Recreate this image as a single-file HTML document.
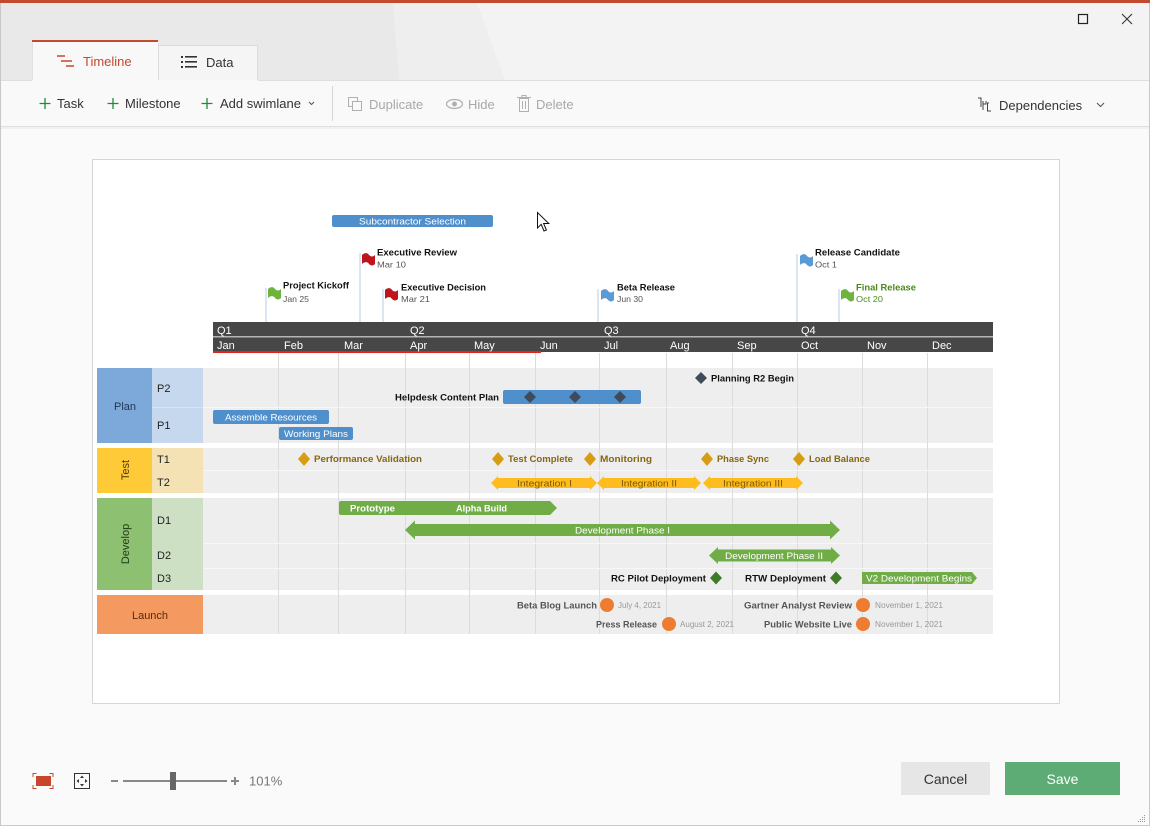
<!DOCTYPE html>
<html><head><meta charset="utf-8">
<style>
html,body{margin:0;padding:0;width:1150px;height:826px;overflow:hidden;background:#fafafa;}
svg{display:block;font-family:"Liberation Sans",Arial,sans-serif;}
</style></head>
<body>
<svg width="1150" height="826" viewBox="0 0 1150 826" xmlns="http://www.w3.org/2000/svg">
<!-- title bar -->
<rect x="0" y="0" width="1150" height="80" fill="#e9e9e9"/>
<polygon points="393,3 1150,3 1150,80 399,80" fill="#eeeeee"/>
<polygon points="477,3 1150,3 1150,80 505,80" fill="#f3f3f3"/>
<rect x="0" y="0" width="1150" height="3" fill="#c24a2e"/>
<!-- window controls -->
<rect x="1078.5" y="14.5" width="9" height="9" fill="none" stroke="#222" stroke-width="1.2"/>
<path d="M1122,14 L1132,24 M1132,14 L1122,24" stroke="#333" stroke-width="1.1"/>
<!-- tabs -->
<rect x="158.5" y="45.5" width="99" height="35" fill="#f5f5f5" stroke="#dcdcdc"/>
<rect x="32" y="40" width="126" height="41" fill="#f8f8f8"/>
<rect x="32" y="40" width="126" height="2" fill="#c24a2e"/>
<line x1="32.5" y1="42" x2="32.5" y2="80" stroke="#e2e2e2"/>
<path d="M57,56 H65 M61,61 H72 M66,66 H74" stroke="#c7472c" stroke-width="1.6"/>
<text x="83" y="66" font-size="13" fill="#c7472c">Timeline</text>
<g fill="#333"><rect x="181" y="56" width="2" height="2"/><rect x="181" y="61" width="2" height="2"/><rect x="181" y="66" width="2" height="2"/>
<rect x="185" y="56" width="12" height="1.6"/><rect x="185" y="61" width="12" height="1.6"/><rect x="185" y="66" width="12" height="1.6"/></g>
<text x="206" y="67" font-size="13" fill="#333">Data</text>
<!-- toolbar -->
<rect x="0" y="80" width="1150" height="47" fill="#f9f9f9"/>
<line x1="0" y1="80.5" x2="32" y2="80.5" stroke="#dedede"/>
<line x1="258" y1="80.5" x2="1150" y2="80.5" stroke="#dedede"/>
<rect x="0" y="126" width="1150" height="1" fill="#e0e0e0"/>
<rect x="0" y="127" width="1150" height="2" fill="#f1f1f1"/>
<path d="M45,98 V109 M39.5,103.5 H50.5" stroke="#1e8a3a" stroke-width="1.3"/>
<text x="57" y="108" font-size="13" fill="#333">Task</text>
<path d="M113,98 V109 M107.5,103.5 H118.5" stroke="#1e8a3a" stroke-width="1.3"/>
<text x="125" y="108" font-size="13" fill="#333">Milestone</text>
<path d="M207,98 V109 M201.5,103.5 H212.5" stroke="#1e8a3a" stroke-width="1.3"/>
<text x="220" y="108" font-size="13" fill="#333">Add swimlane</text>
<path d="M309,102 L311.5,104.5 L314,102" stroke="#555" stroke-width="1" fill="none"/>
<line x1="332.5" y1="86" x2="332.5" y2="121" stroke="#d6d6d6"/>
<rect x="348.5" y="97.5" width="9" height="9" fill="none" stroke="#b0b0b0"/>
<rect x="352.5" y="101.5" width="9" height="9" fill="#f9f9f9" stroke="#b0b0b0"/>
<text x="369" y="109" font-size="13" fill="#a8a8a8">Duplicate</text>
<ellipse cx="454.5" cy="104" rx="8" ry="4.5" fill="none" stroke="#b0b0b0" stroke-width="1.2"/>
<circle cx="454.5" cy="104" r="2.5" fill="#b0b0b0"/>
<text x="468" y="109" font-size="13" fill="#a8a8a8">Hide</text>
<rect x="519.5" y="98.5" width="9" height="13" fill="none" stroke="#b0b0b0"/>
<path d="M517,97.5 H531 M522,97 V95.5 H526 V97 M522.5,101 V109 M525.5,101 V109" stroke="#b0b0b0" fill="none"/>
<text x="536" y="109" font-size="13" fill="#a8a8a8">Delete</text>
<path d="M978,98 H981 V107 M983,101 V110 M983,104 H986 V101 M989,103 H987.5 V111 H991" stroke="#444" stroke-width="1" fill="none"/>
<text x="999" y="110" font-size="13" fill="#333">Dependencies</text>
<path d="M1097,103 L1100.5,106.5 L1104,103" stroke="#555" stroke-width="1.1" fill="none"/>
<!-- main -->
<rect x="0" y="129" width="1150" height="697" fill="#fafafa"/>
<rect x="92.5" y="159.5" width="967" height="544" fill="#ffffff" stroke="#d6d6d6"/>

<!-- above timescale -->
<rect x="332" y="215" width="161" height="12" rx="2" fill="#4f8fcc"/>
<text x="359" y="224.5" font-size="9.5" fill="#fff" textLength="107" lengthAdjust="spacingAndGlyphs">Subcontractor Selection</text>

<g stroke="#c5d5ea" stroke-width="1.2">
<line x1="266" y1="288" x2="266" y2="322"/>
<line x1="360" y1="253" x2="360" y2="322"/>
<line x1="383" y1="289" x2="383" y2="322"/>
<line x1="598" y1="289" x2="598" y2="322"/>
<line x1="797" y1="254" x2="797" y2="322"/>
<line x1="839" y1="289" x2="839" y2="322"/>
</g>
<!-- flags -->
<g>
<path d="M268,289 C271,286 274,287 275,289 C277,291 279,291 281,289 V298 C279,300 277,300 275,298 C274,296 271,295 268,298 Z" fill="#6fb33f"/>
<path d="M362,255 C365,252 368,253 369,255 C371,257 373,257 375,255 V264 C373,266 371,266 369,264 C368,262 365,261 362,264 Z" fill="#c0141c"/>
<path d="M385,290 C388,287 391,288 392,290 C394,292 396,292 398,290 V299 C396,301 394,301 392,299 C391,297 388,296 385,299 Z" fill="#c0141c"/>
<path d="M601,291 C604,288 607,289 608,291 C610,293 612,293 614,291 V300 C612,302 610,302 608,300 C607,298 604,297 601,300 Z" fill="#5b9bd5"/>
<path d="M800,256 C803,253 806,254 807,256 C809,258 811,258 813,256 V265 C811,267 809,267 807,265 C806,263 803,262 800,265 Z" fill="#5b9bd5"/>
<path d="M841,291 C844,288 847,289 848,291 C850,293 852,293 854,291 V300 C852,302 850,302 848,300 C847,298 844,297 841,300 Z" fill="#6fb33f"/>
</g>
<g font-size="9.5" font-weight="bold" fill="#111">
<text x="283" y="288.5" textLength="66" lengthAdjust="spacingAndGlyphs">Project Kickoff</text>
<text x="377" y="255.5" textLength="80" lengthAdjust="spacingAndGlyphs">Executive Review</text>
<text x="401" y="290.5" textLength="85" lengthAdjust="spacingAndGlyphs">Executive Decision</text>
<text x="617" y="290.5" textLength="58" lengthAdjust="spacingAndGlyphs">Beta Release</text>
<text x="815" y="255.5" textLength="85" lengthAdjust="spacingAndGlyphs">Release Candidate</text>
<text x="856" y="290.5" fill="#4a8a1c" textLength="60" lengthAdjust="spacingAndGlyphs">Final Release</text>
</g>
<g font-size="8.5" fill="#555">
<text x="283" y="302" textLength="26" lengthAdjust="spacingAndGlyphs">Jan 25</text>
<text x="377" y="267.5" textLength="29" lengthAdjust="spacingAndGlyphs">Mar 10</text>
<text x="401" y="302" textLength="29" lengthAdjust="spacingAndGlyphs">Mar 21</text>
<text x="617" y="302" textLength="26" lengthAdjust="spacingAndGlyphs">Jun 30</text>
<text x="815" y="267.5" textLength="22" lengthAdjust="spacingAndGlyphs">Oct 1</text>
<text x="856" y="302" fill="#4a8a1c" textLength="27" lengthAdjust="spacingAndGlyphs">Oct 20</text>
</g>

<!-- timescale -->
<rect x="213" y="322" width="780" height="30" fill="#474747"/>
<rect x="213" y="336" width="780" height="1.5" fill="#b5b5b5"/>
<rect x="213" y="351" width="328" height="2" fill="#e8211d"/>
<g font-size="11" fill="#fff">
<text x="217" y="334">Q1</text><text x="410" y="334">Q2</text><text x="604" y="334">Q3</text><text x="801" y="334">Q4</text>
<text x="217" y="349">Jan</text><text x="284" y="349">Feb</text><text x="344" y="349">Mar</text><text x="410" y="349">Apr</text>
<text x="474" y="349">May</text><text x="540" y="349">Jun</text><text x="604" y="349">Jul</text><text x="670" y="349">Aug</text>
<text x="737" y="349">Sep</text><text x="801" y="349">Oct</text><text x="867" y="349">Nov</text><text x="932" y="349">Dec</text>
</g>

<!-- lanes backgrounds -->
<rect x="203" y="368" width="790" height="75" fill="#eeeeef"/>
<rect x="203" y="448" width="790" height="45" fill="#eeeeef"/>
<rect x="203" y="498" width="790" height="92" fill="#eeeeef"/>
<rect x="203" y="595" width="790" height="39" fill="#eeeeef"/>
<!-- gridlines -->
<g stroke="#dcdcdc" stroke-width="1">
<line x1="278.5" y1="353" x2="278.5" y2="634"/>
<line x1="338.5" y1="353" x2="338.5" y2="634"/>
<line x1="405.5" y1="353" x2="405.5" y2="634"/>
<line x1="469.5" y1="353" x2="469.5" y2="634"/>
<line x1="535.5" y1="353" x2="535.5" y2="634"/>
<line x1="599.5" y1="353" x2="599.5" y2="634"/>
<line x1="666.5" y1="353" x2="666.5" y2="634"/>
<line x1="732.5" y1="353" x2="732.5" y2="634"/>
<line x1="797.5" y1="353" x2="797.5" y2="634"/>
<line x1="862.5" y1="353" x2="862.5" y2="634"/>
<line x1="927.5" y1="353" x2="927.5" y2="634"/>
</g>
<!-- sub-row separators -->
<g stroke="#f7f7f7" stroke-width="1">
<line x1="152" y1="407.5" x2="993" y2="407.5"/>
<line x1="152" y1="470.5" x2="993" y2="470.5"/>
<line x1="152" y1="543.5" x2="993" y2="543.5"/>
<line x1="152" y1="568.5" x2="993" y2="568.5"/>
</g>
<!-- lane labels -->
<rect x="97" y="368" width="55" height="75" fill="#7ca8da"/>
<rect x="152" y="368" width="51" height="75" fill="#c6d8ed"/>
<rect x="97" y="448" width="55" height="45" fill="#ffca38"/>
<rect x="152" y="448" width="51" height="45" fill="#f4e2b4"/>
<rect x="97" y="498" width="55" height="92" fill="#8dc171"/>
<rect x="152" y="498" width="51" height="92" fill="#cee0c4"/>
<rect x="97" y="595" width="106" height="39" fill="#f49a60"/>
<line x1="152" y1="407.5" x2="203" y2="407.5" stroke="#d8e4f2"/>
<g font-size="11" fill="#222">
<text x="125" y="410" text-anchor="middle" fill="#1f3550">Plan</text>
<text x="157" y="392">P2</text><text x="157" y="429">P1</text>
<text x="157" y="463">T1</text><text x="157" y="486">T2</text>
<text x="157" y="524">D1</text><text x="157" y="559">D2</text><text x="157" y="582">D3</text>
<text x="150" y="619" text-anchor="middle" fill="#5a2a0c">Launch</text>
<text transform="translate(129,470) rotate(-90)" text-anchor="middle" fill="#4a3a00">Test</text>
<text transform="translate(129,544) rotate(-90)" text-anchor="middle" fill="#223a16">Develop</text>
</g>

<!-- Plan items -->
<polygon points="701,372 707,378 701,384 695,378" fill="#3f4b5a"/>
<text x="711" y="381.5" font-size="9.5" font-weight="bold" fill="#111" textLength="83" lengthAdjust="spacingAndGlyphs">Planning R2 Begin</text>
<text x="395" y="400.5" font-size="9.5" font-weight="bold" fill="#111" textLength="104" lengthAdjust="spacingAndGlyphs">Helpdesk Content Plan</text>
<rect x="503" y="390" width="138" height="14" rx="2" fill="#4f8fcc"/>
<g fill="#3f4b5a">
<polygon points="530,391 536,397 530,403 524,397"/>
<polygon points="575,391 581,397 575,403 569,397"/>
<polygon points="620,391 626,397 620,403 614,397"/>
</g>
<rect x="213" y="410" width="116" height="14" rx="2" fill="#4f8fcc"/>
<text x="225" y="420.5" font-size="9.5" fill="#fff" textLength="92" lengthAdjust="spacingAndGlyphs">Assemble Resources</text>
<rect x="279" y="427" width="74" height="13" rx="2" fill="#4f8fcc"/>
<text x="284" y="437" font-size="9.5" fill="#fff" textLength="64" lengthAdjust="spacingAndGlyphs">Working Plans</text>

<!-- Test items -->
<g fill="#d69c12">
<polygon points="304,452 310,459 304,466 298,459"/>
<polygon points="498,452 504,459 498,466 492,459"/>
<polygon points="590,452 596,459 590,466 584,459"/>
<polygon points="707,452 713,459 707,466 701,459"/>
<polygon points="799,452 805,459 799,466 793,459"/>
</g>
<g font-size="9.5" font-weight="bold" fill="#876610">
<text x="314" y="462" textLength="108" lengthAdjust="spacingAndGlyphs">Performance Validation</text>
<text x="508" y="462" textLength="65" lengthAdjust="spacingAndGlyphs">Test Complete</text>
<text x="600" y="462" textLength="52" lengthAdjust="spacingAndGlyphs">Monitoring</text>
<text x="717" y="462" textLength="52" lengthAdjust="spacingAndGlyphs">Phase Sync</text>
<text x="809" y="462" textLength="61" lengthAdjust="spacingAndGlyphs">Load Balance</text>
</g>
<g fill="#ffbc1e">
<polygon points="491,483 498,476 498,478 590,478 590,476 597,483 590,490 590,488 498,488 498,490"/>
<polygon points="597,483 604,476 604,478 694,478 694,476 701,483 694,490 694,488 604,488 604,490"/>
<polygon points="703,483 710,476 710,478 796,478 796,476 803,483 796,490 796,488 710,488 710,490"/>
</g>
<g font-size="9.5" fill="#7a5a00">
<text x="517" y="486.5" textLength="55" lengthAdjust="spacingAndGlyphs">Integration I</text>
<text x="621" y="486.5" textLength="56" lengthAdjust="spacingAndGlyphs">Integration II</text>
<text x="723" y="486.5" textLength="60" lengthAdjust="spacingAndGlyphs">Integration III</text>
</g>

<!-- Develop items -->
<path d="M341,501 H550 L557,508 L550,515 H341 Q339,515 339,513 V503 Q339,501 341,501 Z" fill="#70ad47"/>
<g font-size="9.5" font-weight="bold" fill="#fff">
<text x="350" y="511.5" textLength="45" lengthAdjust="spacingAndGlyphs">Prototype</text>
<text x="456" y="511.5" textLength="51" lengthAdjust="spacingAndGlyphs">Alpha Build</text>
</g>
<polygon points="405,530 415,520.5 415,524 830,524 830,520.5 840,530 830,539.5 830,536 415,536 415,539.5" fill="#70ad47"/>
<polygon points="709,555.5 718,547 718,549.5 831,549.5 831,547 840,555.5 831,564 831,561.5 718,561.5 718,564" fill="#70ad47"/>
<g font-size="9.5" fill="#fff">
<text x="575" y="533.5" textLength="95" lengthAdjust="spacingAndGlyphs">Development Phase I</text>
<text x="725" y="559" textLength="98" lengthAdjust="spacingAndGlyphs">Development Phase II</text>
</g>
<g fill="#3f7a28">
<polygon points="716,571.5 722,578 716,584.5 710,578"/>
<polygon points="836,571.5 842,578 836,584.5 830,578"/>
</g>
<g font-size="9.5" font-weight="bold" fill="#111">
<text x="611" y="581.5" textLength="95" lengthAdjust="spacingAndGlyphs">RC Pilot Deployment</text>
<text x="745" y="581.5" textLength="81" lengthAdjust="spacingAndGlyphs">RTW Deployment</text>
</g>
<polygon points="862,572 972,572 977,578 972,584 862,584" fill="#70ad47"/>
<text x="866" y="581.5" font-size="9.5" fill="#fff" textLength="106" lengthAdjust="spacingAndGlyphs">V2 Development Begins</text>

<!-- Launch items -->
<g fill="#ed7d31">
<circle cx="607" cy="605" r="7"/>
<circle cx="669" cy="624" r="7"/>
<circle cx="863" cy="605" r="7"/>
<circle cx="863" cy="624" r="7"/>
</g>
<g font-size="9.5" font-weight="bold" fill="#555">
<text x="517" y="608.5" textLength="80" lengthAdjust="spacingAndGlyphs">Beta Blog Launch</text>
<text x="596" y="627.5" textLength="61" lengthAdjust="spacingAndGlyphs">Press Release</text>
<text x="744" y="608.5" textLength="108" lengthAdjust="spacingAndGlyphs">Gartner Analyst Review</text>
<text x="764" y="627.5" textLength="88" lengthAdjust="spacingAndGlyphs">Public Website Live</text>
</g>
<g font-size="8" fill="#999">
<text x="618" y="608" textLength="43" lengthAdjust="spacingAndGlyphs">July 4, 2021</text>
<text x="680" y="627" textLength="54" lengthAdjust="spacingAndGlyphs">August 2, 2021</text>
<text x="875" y="608" textLength="68" lengthAdjust="spacingAndGlyphs">November 1, 2021</text>
<text x="875" y="627" textLength="68" lengthAdjust="spacingAndGlyphs">November 1, 2021</text>
</g>

<!-- cursor -->
<path d="M537.5,212.5 L537.5,228 L541.2,224.4 L544,231 L546.4,230 L543.6,223.5 L548.8,223.5 Z" fill="#fff" stroke="#111" stroke-width="1"/>

<!-- bottom bar -->
<path d="M33,777 V773.5 H36.5 M49.5,773.5 H53 V777 M53,785 V788.5 H49.5 M36.5,788.5 H33 V785" stroke="#c8472c" stroke-width="1" fill="none"/>
<rect x="36" y="776" width="15" height="10" fill="#c8472c"/>
<rect x="74.5" y="773.5" width="15" height="15" fill="none" stroke="#333" stroke-width="1"/>
<g fill="#333"><polygon points="82,775.5 84,778 80,778"/><polygon points="82,786.5 84,784 80,784"/><polygon points="76.5,781 79,779 79,783"/><polygon points="87.5,781 85,779 85,783"/></g>
<rect x="111" y="780" width="7" height="2" fill="#888"/>
<rect x="123" y="780" width="104" height="2" fill="#888"/>
<rect x="170" y="772" width="6" height="18" fill="#666"/>
<path d="M235,777 V785 M231,781 H239" stroke="#888" stroke-width="2"/>
<text x="249" y="785.5" font-size="13" fill="#777">101%</text>
<rect x="901" y="762" width="89" height="33" fill="#e6e6e6"/>
<text x="945.5" y="784" font-size="14" fill="#333" text-anchor="middle">Cancel</text>
<rect x="1005" y="762" width="115" height="33" fill="#5dab75"/>
<text x="1062.5" y="784" font-size="14" fill="#fff" text-anchor="middle">Save</text>
<g fill="#999"><rect x="1144" y="815" width="1" height="1"/><rect x="1142" y="817" width="1" height="1"/><rect x="1144" y="817" width="1" height="1"/><rect x="1140" y="819" width="1" height="1"/><rect x="1142" y="819" width="1" height="1"/><rect x="1144" y="819" width="1" height="1"/><rect x="1138" y="821" width="1" height="1"/><rect x="1140" y="821" width="1" height="1"/><rect x="1142" y="821" width="1" height="1"/><rect x="1144" y="821" width="1" height="1"/></g>
<!-- window border -->
<rect x="0.5" y="0.5" width="1149" height="825" fill="none" stroke="#c8c8c8"/>
<rect x="0" y="0" width="1150" height="3" fill="#c24a2e"/>
</svg>
</body></html>
